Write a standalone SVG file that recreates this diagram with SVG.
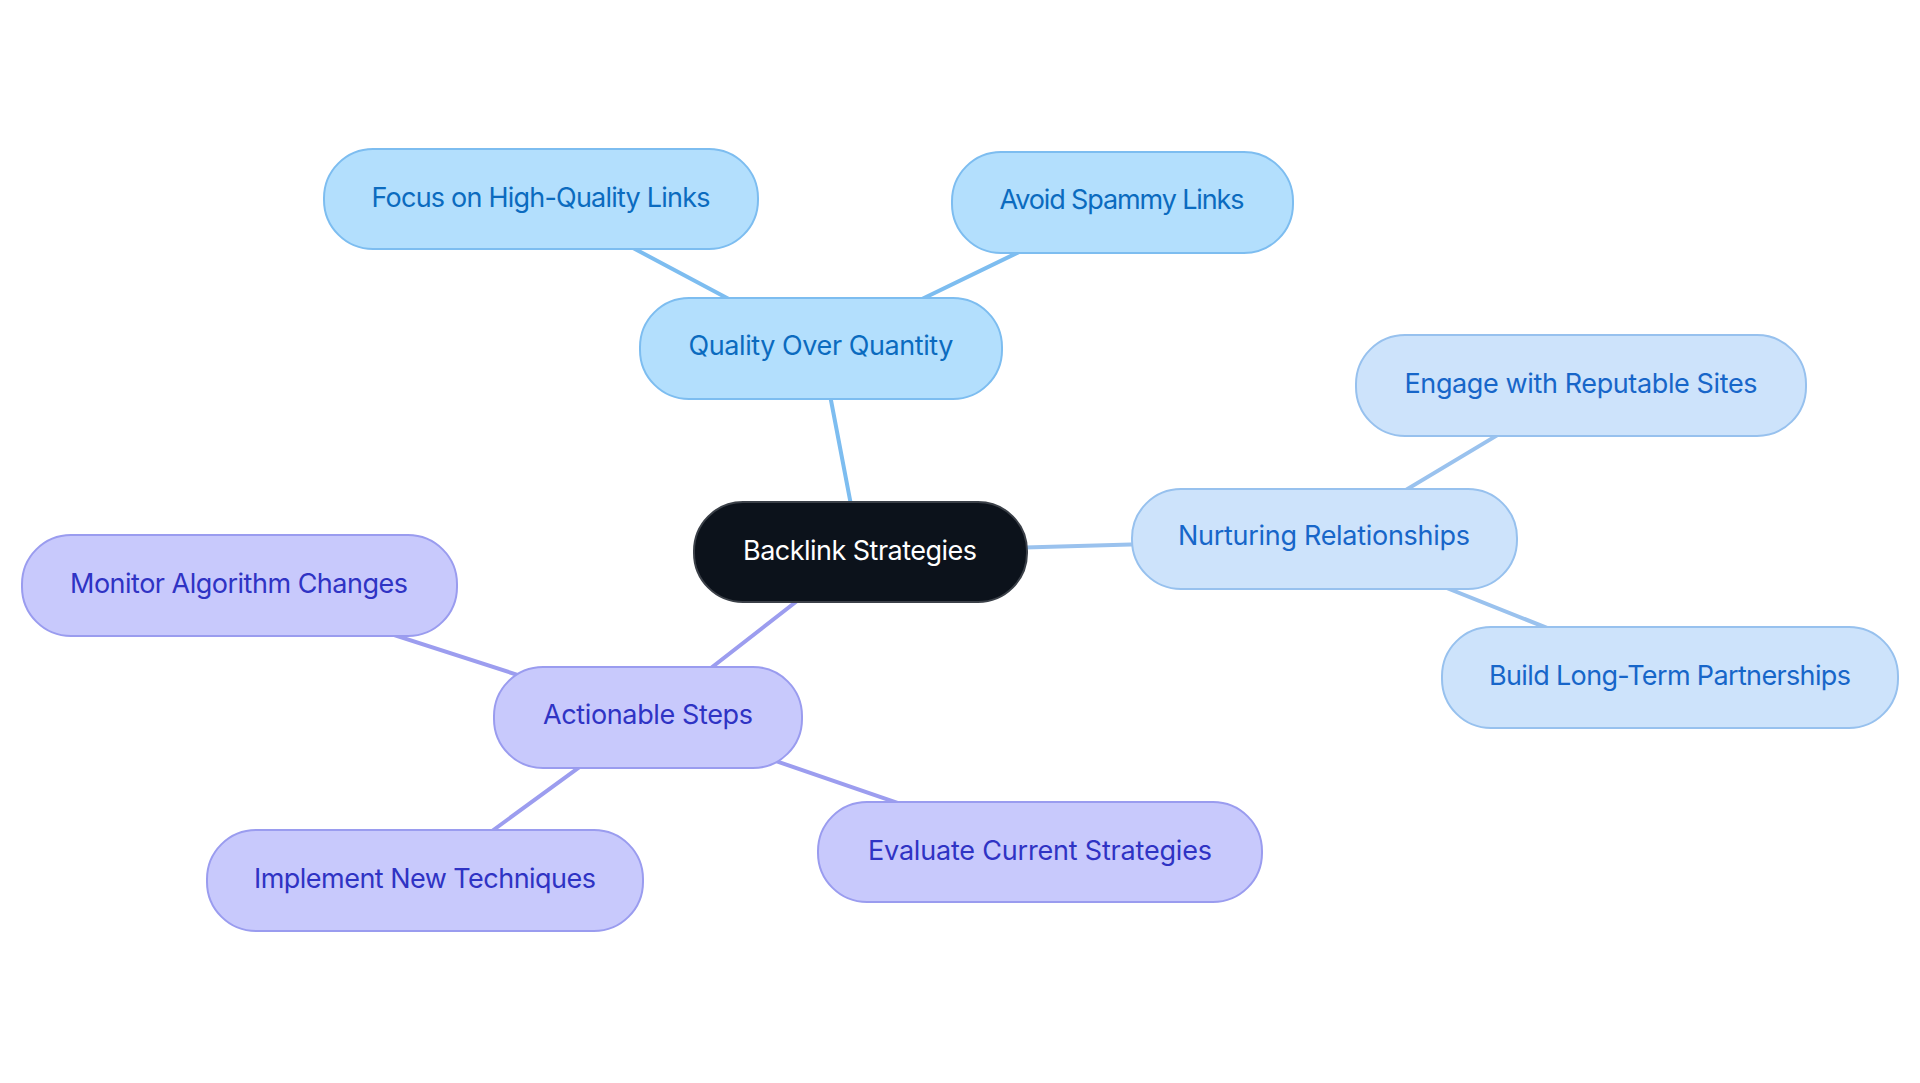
<svg xmlns="http://www.w3.org/2000/svg" width="1920" height="1083" viewBox="0 0 1920 1083">
<style>
text{font-family:"Inter","Liberation Sans",sans-serif;font-size:27px;text-anchor:middle}
.n rect{stroke-width:2}
.q rect{fill:#b3dffd;stroke:#7dbdf0}
.q text{fill:#0b6bbf}
.r rect{fill:#cde3fb;stroke:#97c1ee}
.r text{fill:#1766c9}
.p rect{fill:#c8c9fc;stroke:#9a9cef}
.p text{fill:#2f33c4}
.c rect{fill:#0c121b;stroke:#3b4048}
.c text{fill:#ffffff}
.e line{stroke-width:4;stroke-linecap:round}
.eq{stroke:#7dbdf0}
.er{stroke:#9ac2ee}
.ep{stroke:#9c9def}
</style>
<rect width="1920" height="1083" fill="#ffffff"/>
<g id="connectors" class="e">
<line class="eq" x1="860" y1="552" x2="821" y2="348"/>
<line class="eq" x1="821" y1="348" x2="541" y2="199"/>
<line class="eq" x1="821" y1="348" x2="1122" y2="202"/>
<line class="er" x1="860" y1="552" x2="1324" y2="539"/>
<line class="er" x1="1324" y1="539" x2="1581" y2="385"/>
<line class="er" x1="1324" y1="539" x2="1670" y2="677"/>
<line class="ep" x1="860" y1="552" x2="648" y2="717"/>
<line class="ep" x1="648" y1="717" x2="239" y2="585"/>
<line class="ep" x1="648" y1="717" x2="425" y2="880"/>
<line class="ep" x1="648" y1="717" x2="1040" y2="852"/>
</g>
<g id="backlink-strategies" class="n c"><rect x="694" y="502" width="333" height="100" rx="49"/><text x="860" y="560" textLength="234">Backlink Strategies</text></g>
<g id="quality-over-quantity" class="n q"><rect x="640" y="298" width="362" height="101" rx="49"/><text x="821" y="355" textLength="265">Quality Over Quantity</text></g>
<g id="focus-high-quality" class="n q"><rect x="324" y="149" width="434" height="100" rx="49"/><text x="541" y="207" textLength="339">Focus on High-Quality Links</text></g>
<g id="avoid-spammy" class="n q"><rect x="952" y="152" width="341" height="101" rx="49"/><text x="1122" y="209" textLength="245">Avoid Spammy Links</text></g>
<g id="nurturing-relationships" class="n r"><rect x="1132" y="489" width="385" height="100" rx="49"/><text x="1324" y="545" textLength="292">Nurturing Relationships</text></g>
<g id="engage-reputable" class="n r"><rect x="1356" y="335" width="450" height="101" rx="49"/><text x="1581" y="393" textLength="353">Engage with Reputable Sites</text></g>
<g id="build-partnerships" class="n r"><rect x="1442" y="627" width="456" height="101" rx="49"/><text x="1670" y="685" textLength="362">Build Long-Term Partnerships</text></g>
<g id="actionable-steps" class="n p"><rect x="494" y="667" width="308" height="101" rx="49"/><text x="648" y="724" textLength="210">Actionable Steps</text></g>
<g id="monitor-algorithm" class="n p"><rect x="22" y="535" width="435" height="101" rx="49"/><text x="239" y="593" textLength="338">Monitor Algorithm Changes</text></g>
<g id="implement-techniques" class="n p"><rect x="207" y="830" width="436" height="101" rx="49"/><text x="425" y="888" textLength="342">Implement New Techniques</text></g>
<g id="evaluate-strategies" class="n p"><rect x="818" y="802" width="444" height="100" rx="49"/><text x="1040" y="860" textLength="344">Evaluate Current Strategies</text></g>
</svg>
